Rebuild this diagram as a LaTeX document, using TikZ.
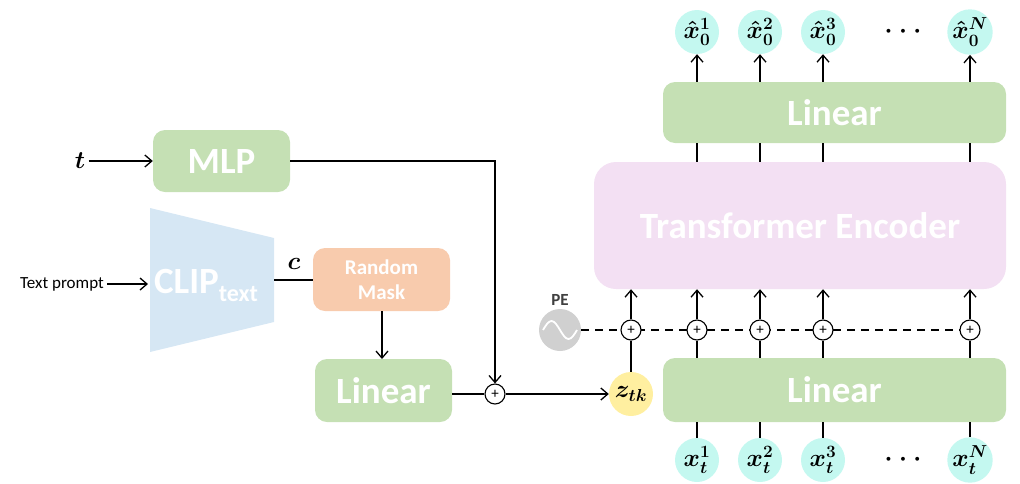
\documentclass[tikz,border=0pt]{standalone}
\usepackage{fontspec}
\usepackage{amsmath}
\setmainfont{Carlito}
\usetikzlibrary{arrows.meta}
\definecolor{gr}{HTML}{C5E0B4}
\definecolor{bl}{HTML}{D6E7F4}
\definecolor{orr}{HTML}{F8CBAD}
\definecolor{pk}{HTML}{F3E0F3}
\definecolor{yl}{HTML}{FFEFA0}
\definecolor{cy}{HTML}{C4F8F0}
\definecolor{gy}{HTML}{D0D0D0}
\begin{document}
\begin{tikzpicture}[x=1pt,y=-1pt,
 box/.style={rounded corners=12pt,draw=none,text=white,font=\bfseries\fontsize{37}{40}\selectfont},
 ln/.style={line width=1.3pt},
 ar/.style={ln,-{Straight Barb[length=7pt,width=12pt]}},
 pl/.style={circle,draw,line width=1.1pt,minimum size=20pt,inner sep=0pt,fill=white,font=\fontsize{15}{15}\selectfont},
 vc/.style={circle,fill=cy,minimum size=44pt,inner sep=0pt,font=\fontsize{25}{27}\selectfont}]
\useasboundingbox (0,0) rectangle (1020,483);
% left part
\node[box,fill=gr,minimum width=137pt,minimum height=62pt] (mlp) at (221.5,161) {MLP};
\node[font=\fontsize{28}{28}\selectfont] (t) at (80,161) {$\boldsymbol{t}$};
\draw[ar] (t) -- (mlp);
\fill[bl] (150,208) -- (274,238) -- (274,322) -- (150,352) -- cycle;
\node[text=white,font=\bfseries\fontsize{37}{40}\selectfont] (clip) at (206,285) {CLIP\raisebox{-8pt}{\fontsize{24}{26}\selectfont text}};
\coordinate (clipL) at (148,284);
\coordinate (clipR) at (274,280);
\node[font=\fontsize{17}{19}\selectfont] (tp) at (62,284) {Text prompt};
\draw[ar] (tp.east) -- (clipL);
\node[box,fill=orr,minimum width=137pt,minimum height=63pt,align=center,font=\bfseries\fontsize{21}{25}\selectfont] (rm) at (381.5,279.5) {Random\\Mask};
\draw[ln] (clipR) -- (313,280);
\node[font=\fontsize{28}{28}\selectfont] at (294,264) {$\boldsymbol{c}$};
\node[box,fill=gr,minimum width=137pt,minimum height=63pt] (lin1) at (383.5,390.5) {Linear};
\draw[ar] (382,311) -- (382,359);
\node[pl] (p0) at (495,394) {+};
\draw[ln] (lin1.east |- p0) -- (p0);
\draw[ar] (mlp.east) -| (p0.north);
\node[circle,fill=yl,minimum size=44pt,inner sep=0pt,font=\fontsize{25}{27}\selectfont] (z) at (631,394) {$\boldsymbol{z_{tk}}$};
\draw[ar] (p0) -- (z);
% right part
\node[box,fill=gr,minimum width=343pt,minimum height=64pt] (lin2) at (834.5,390) {Linear};
\node[box,fill=pk,rounded corners=22pt,minimum width=412pt,minimum height=127pt,font=\bfseries\fontsize{37}{40}\selectfont] (tr) at (800,225.5) {Transformer Encoder};
\node[box,fill=gr,minimum width=343pt,minimum height=61pt] (lin3) at (834.5,112.5) {Linear};
\node[circle,fill=gy,minimum size=42pt,inner sep=0pt] (pe) at (560,330) {};
\draw[white,line width=1.8pt] (543,330) sin (551.5,321) cos (560,330) sin (568.5,339) cos (577,330);
\node[font=\bfseries\fontsize{17}{19}\selectfont,text=black!75] at (560,300) {PE};
\coordinate (dend) at (980,330);
\draw[ln,dash pattern=on 8pt off 6pt] (pe.east) -- (dend);
\node[pl] (q0) at (631,330) {+};
\draw[ln] (z) -- (q0);
\draw[ar] (q0) -- (q0 |- tr.south);
\foreach \i/\x/\s in {1/697/1,2/760/2,3/823/3,4/970/N}{
 \node[pl] (q\i) at (\x,330) {+};
 \node[vc] (x\i) at (\x,460) {$\boldsymbol{x_t^{\s}}$};
 \node[vc] (o\i) at (\x,32) {$\boldsymbol{\hat{x}_0^{\s}}$};
 \draw[ln] (x\i) -- (x\i |- lin2.south);
 \draw[ln] (q\i |- lin2.north) -- (q\i);
 \draw[ar] (q\i) -- (q\i |- tr.south);
 \draw[ln] (o\i |- tr.north) -- (o\i |- lin3.south);
 \draw[ar] (o\i |- lin3.north) -- (o\i);
}
\node[font=\fontsize{30}{30}\selectfont] at (903,460) {$\boldsymbol{\cdot\cdot\cdot}$};
\node[font=\fontsize{30}{30}\selectfont] at (903,32) {$\boldsymbol{\cdot\cdot\cdot}$};
\end{tikzpicture}
\end{document}
